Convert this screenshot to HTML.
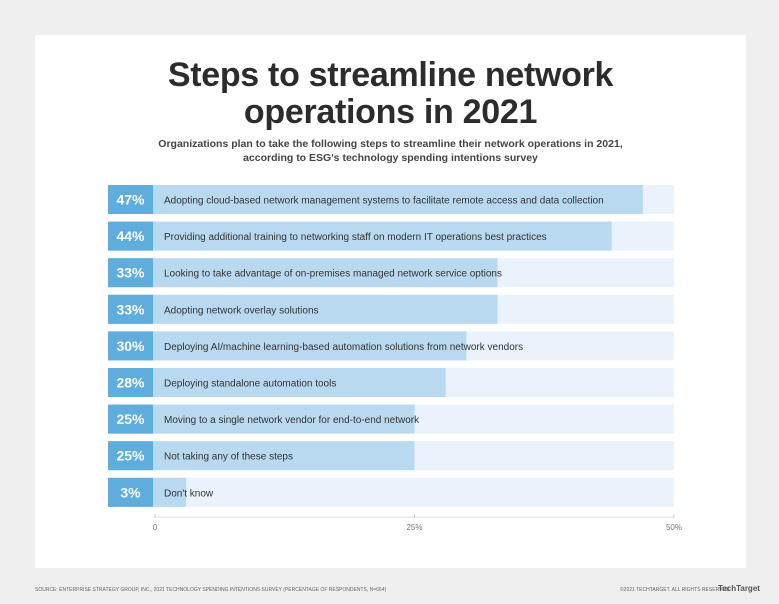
<!DOCTYPE html>
<html><head><meta charset="utf-8"><style>
body{margin:0;width:779px;height:604px;background:#efefef;font-family:"Liberation Sans",sans-serif;position:relative;overflow:hidden}
#card{position:absolute;left:35px;top:35px;width:711px;height:533px;background:#fff}
h1{position:absolute;left:35px;width:711px;top:57px;margin:0;text-align:center;font-size:34px;line-height:37px;color:#2c2c2c;font-weight:bold;letter-spacing:-0.3px}
#sub{position:absolute;left:35px;width:711px;top:137px;text-align:center;font-size:10.5px;line-height:14px;color:#444;font-weight:bold}
.foot{position:absolute;top:587px;font-size:5px;color:#666}
</style></head><body>
<div id="card"></div>
<h1>Steps to streamline network<br>operations in 2021</h1>
<div id="sub">Organizations plan to take the following steps to streamline their network operations in 2021,<br>according to ESG's technology spending intentions survey</div>
<svg id="chart" width="779" height="604" style="position:absolute;left:0;top:0"></svg>
<div class="foot" style="left:35px">SOURCE: ENTERPRISE STRATEGY GROUP, INC., 2021 TECHNOLOGY SPENDING INTENTIONS SURVEY (PERCENTAGE OF RESPONDENTS, N=664)</div>
<div class="foot" style="left:620px">©2021 TECHTARGET. ALL RIGHTS RESERVED</div>
<div style="position:absolute;left:718px;top:584px;font-size:8px;color:#555;font-weight:bold">TechTarget</div>
<script>
const categories=["Adopting cloud-based network management systems to facilitate remote access and data collection","Providing additional training to networking staff on modern IT operations best practices","Looking to take advantage of on-premises managed network service options","Adopting network overlay solutions","Deploying AI/machine learning-based automation solutions from network vendors","Deploying standalone automation tools","Moving to a single network vendor for end-to-end network","Not taking any of these steps","Don't know"];
const values=[47,44,33,33,30,28,25,25,3];
const tickValues=[0,25,50];
const tickLabels=["0","25%","50%"];
const NS="http://www.w3.org/2000/svg",svg=document.getElementById('chart');
const x0=155,x1=674,max=50;
const xs=v=>x0+(x1-x0)*v/max;
const ys=i=>185+i*36.6;
function mk(t,a,txt){const e=document.createElementNS(NS,t);for(const k in a)e.setAttribute(k,a[k]);if(txt!=null)e.textContent=txt;svg.appendChild(e);return e;}
values.forEach((v,i)=>{
 const y=ys(i);
 const bg=mk('rect',{x:108,y:y,width:x1-108,height:29,fill:'#eaf3fb'});
 
 
 const b=mk('rect',{x:108,y:y,width:xs(v)-108,height:29,fill:'#b9d9f0'});
 
 
 const lb=mk('rect',{x:108,y:y,width:45,height:29,fill:'#5eaddd'});
 
 
 const vt=mk('text',{x:130.5,y:y+19.5,'text-anchor':'middle','font-size':14,'font-weight':'bold',fill:'#fff'},v+'%');
 
 
 const ct=mk('text',{x:164,y:y+18.5,'font-size':10,fill:'#333'},categories[i]);
 
 
});
const ax=mk('line',{x1:x0,x2:x1,y1:517,y2:517,stroke:'#ddd','stroke-width':1});


tickValues.forEach((t,i)=>{
 mk('line',{x1:xs(t),x2:xs(t),y1:514,y2:518,stroke:'#ccc'});
 const tt=mk('text',{x:xs(t),y:530,'text-anchor':'middle','font-size':8,fill:'#777'},tickLabels[i]);
 
 
});
</script>
</body></html>
